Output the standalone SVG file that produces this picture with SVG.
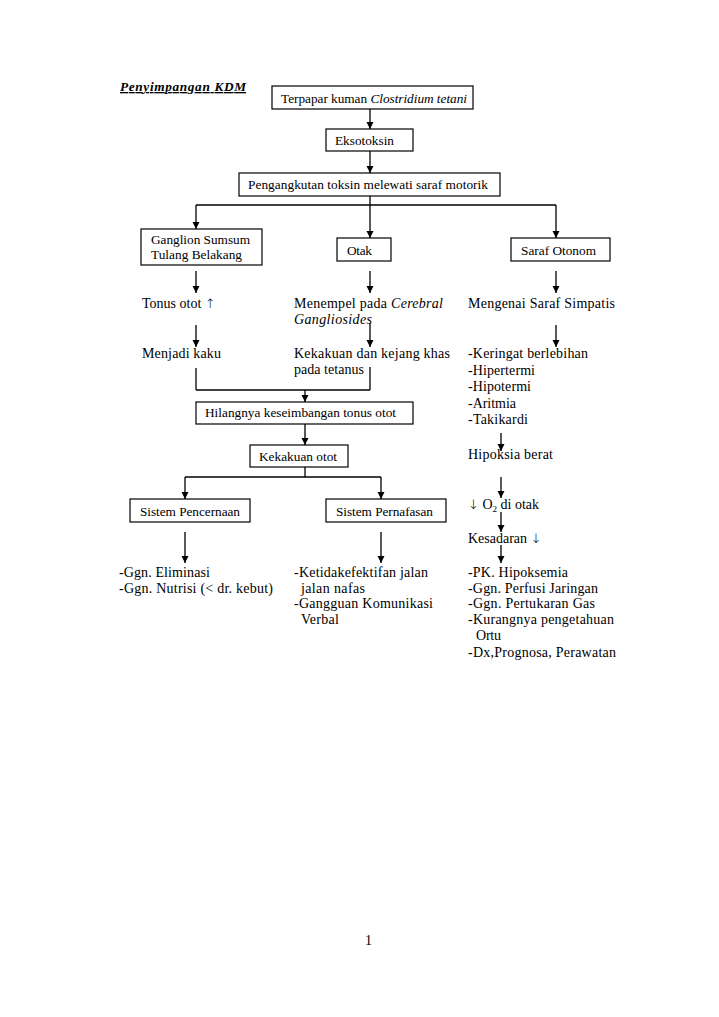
<svg xmlns="http://www.w3.org/2000/svg" width="719" height="1017" viewBox="0 0 719 1017">
<style>
text{font-family:"Liberation Serif","Times New Roman",serif;font-size:13.3px;fill:#000}
.f{font-size:14px}
.box{fill:#fff;stroke:#000;stroke-width:1.2}
.ln{fill:none;stroke:#000;stroke-width:1.3}
.ar{fill:none;stroke:#000;stroke-width:1.3;marker-end:url(#ah)}
.it{font-style:italic}
.sym{font-family:"DejaVu Sans","DejaVu Serif",sans-serif;font-weight:200;font-size:13px;fill:#000}
</style>
<defs>
<marker id="ah" markerUnits="userSpaceOnUse" markerWidth="8" markerHeight="8" refX="7" refY="4" orient="auto">
<path d="M0,0.5 L7,4 L0,7.5 z" fill="#000"/>
</marker>
</defs>
<rect width="719" height="1017" fill="#fff"/>
<g id="title"><text x="120" y="91" font-weight="bold" font-style="italic" font-size="14" text-decoration="underline" textLength="126" lengthAdjust="spacing">Penyimpangan KDM</text></g>

<g id="connectors">
<line class="ar" x1="370" y1="109" x2="370" y2="129"/>
<line class="ar" x1="370" y1="151" x2="370" y2="173"/>
<line class="ln" x1="370" y1="196" x2="370" y2="205"/>
<line class="ln" x1="196" y1="205" x2="556" y2="205"/>
<line class="ar" x1="196" y1="205" x2="196" y2="229"/>
<line class="ar" x1="370" y1="205" x2="370" y2="238"/>
<line class="ar" x1="556" y1="205" x2="556" y2="238"/>
<line class="ar" x1="196" y1="271" x2="196" y2="293"/>
<line class="ar" x1="370" y1="271" x2="370" y2="293"/>
<line class="ar" x1="556" y1="271" x2="556" y2="293"/>
<line class="ar" x1="196" y1="325" x2="196" y2="347"/>
<line class="ar" x1="370" y1="323" x2="370" y2="347"/>
<line class="ar" x1="556" y1="325" x2="556" y2="347"/>
<line class="ln" x1="196" y1="368" x2="196" y2="390"/>
<line class="ln" x1="370" y1="367" x2="370" y2="390"/>
<line class="ln" x1="196" y1="390" x2="370" y2="390"/>
<line class="ar" x1="305" y1="390" x2="305" y2="402"/>
<line class="ar" x1="305" y1="424" x2="305" y2="445"/>
<line class="ln" x1="305" y1="467" x2="305" y2="477"/>
<line class="ln" x1="185" y1="477" x2="381" y2="477"/>
<line class="ar" x1="185" y1="477" x2="185" y2="499"/>
<line class="ar" x1="381" y1="477" x2="381" y2="499"/>
<line class="ar" x1="185" y1="532" x2="185" y2="563"/>
<line class="ar" x1="381" y1="532" x2="381" y2="563"/>
<line class="ar" x1="501" y1="433" x2="501" y2="451"/>
<line class="ar" x1="501" y1="477" x2="501" y2="498"/>
<line class="ar" x1="501" y1="512" x2="501" y2="532"/>
<line class="ar" x1="501" y1="545" x2="501" y2="563"/>
</g>

<g id="n-terpapar"><rect class="box" x="272" y="86" width="201" height="23"/><text x="281" y="103" textLength="186" lengthAdjust="spacing">Terpapar kuman <tspan class="it">Clostridium tetani</tspan></text></g>
<g id="n-eksotoksin"><rect class="box" x="326" y="129" width="87" height="22"/><text x="335" y="145" textLength="59" lengthAdjust="spacing">Eksotoksin</text></g>
<g id="n-pengangkutan"><rect class="box" x="239" y="173" width="261" height="23"/><text x="248" y="189" textLength="240" lengthAdjust="spacing">Pengangkutan toksin melewati saraf motorik</text></g>
<g id="n-ganglion"><rect class="box" x="141" y="229" width="121" height="36"/><text x="151" y="244" textLength="99" lengthAdjust="spacing">Ganglion Sumsum</text><text x="151" y="259" textLength="91" lengthAdjust="spacing">Tulang Belakang</text></g>
<g id="n-otak"><rect class="box" x="337" y="238" width="54" height="23"/><text x="347" y="255" textLength="25" lengthAdjust="spacing">Otak</text></g>
<g id="n-otonom"><rect class="box" x="511" y="238" width="99" height="23"/><text x="521" y="255" textLength="75" lengthAdjust="spacing">Saraf Otonom</text></g>

<g id="n-tonus"><text class="f" x="142" y="308">Tonus otot <tspan class="sym">↑</tspan></text></g>
<g id="n-menempel"><text class="f" x="294" y="308" textLength="149" lengthAdjust="spacing">Menempel pada <tspan class="it">Cerebral</tspan></text><text x="294" y="324" class="f it" textLength="78" lengthAdjust="spacing">Gangliosides</text></g>
<g id="n-mengenai"><text class="f" x="468" y="308" textLength="147" lengthAdjust="spacing">Mengenai Saraf Simpatis</text></g>

<g id="n-kaku"><text class="f" x="142" y="358" textLength="79" lengthAdjust="spacing">Menjadi kaku</text></g>
<g id="n-kejang"><text class="f" x="294" y="358" textLength="156" lengthAdjust="spacing">Kekakuan dan kejang khas</text><text class="f" x="294" y="374" textLength="70" lengthAdjust="spacing">pada tetanus</text></g>
<g id="n-gejala"><text class="f" x="468" y="358" textLength="120" lengthAdjust="spacing">-Keringat berlebihan</text><text class="f" x="468" y="374.5" textLength="67" lengthAdjust="spacing">-Hipertermi</text><text class="f" x="468" y="391" textLength="63" lengthAdjust="spacing">-Hipotermi</text><text class="f" x="468" y="407.5" textLength="48" lengthAdjust="spacing">-Aritmia</text><text class="f" x="468" y="424" textLength="60" lengthAdjust="spacing">-Takikardi</text></g>

<g id="n-hilangnya"><rect class="box" x="196" y="402" width="217" height="22"/><text x="205" y="417" textLength="191" lengthAdjust="spacing">Hilangnya keseimbangan tonus otot</text></g>
<g id="n-kekakuan"><rect class="box" x="250" y="445" width="98" height="22"/><text x="259" y="461" textLength="78" lengthAdjust="spacing">Kekakuan otot</text></g>
<g id="n-hipoksia"><text class="f" x="468" y="459" textLength="85" lengthAdjust="spacing">Hipoksia berat</text></g>
<g id="n-o2"><text class="f" x="468" y="509"><tspan class="sym">↓</tspan> O<tspan font-size="9" dy="3">2</tspan><tspan dy="-3"> di otak</tspan></text></g>
<g id="n-kesadaran"><text class="f" x="468" y="543">Kesadaran <tspan class="sym">↓</tspan></text></g>

<g id="n-pencernaan"><rect class="box" x="130" y="499" width="120" height="23"/><text x="140" y="516" textLength="100" lengthAdjust="spacing">Sistem Pencernaan</text></g>
<g id="n-pernafasan"><rect class="box" x="326" y="499" width="120" height="23"/><text x="336" y="516" textLength="97" lengthAdjust="spacing">Sistem Pernafasan</text></g>

<g id="n-dx-pencernaan"><text class="f" x="119" y="577" textLength="91" lengthAdjust="spacing">-Ggn. Eliminasi</text><text class="f" x="119" y="592.5" textLength="154" lengthAdjust="spacing">-Ggn. Nutrisi (&lt; dr. kebut)</text></g>
<g id="n-dx-pernafasan"><text class="f" x="294" y="577" textLength="134" lengthAdjust="spacing">-Ketidakefektifan jalan</text><text class="f" x="301" y="592.5" textLength="64" lengthAdjust="spacing">jalan nafas</text><text class="f" x="294" y="608" textLength="139" lengthAdjust="spacing">-Gangguan Komunikasi</text><text class="f" x="301" y="624" textLength="38" lengthAdjust="spacing">Verbal</text></g>
<g id="n-dx-otonom"><text class="f" x="468" y="577" textLength="100" lengthAdjust="spacing">-PK. Hipoksemia</text><text class="f" x="468" y="592.5" textLength="130" lengthAdjust="spacing">-Ggn. Perfusi Jaringan</text><text class="f" x="468" y="608" textLength="127" lengthAdjust="spacing">-Ggn. Pertukaran Gas</text><text class="f" x="468" y="624" textLength="146" lengthAdjust="spacing">-Kurangnya pengetahuan</text><text class="f" x="476" y="640" textLength="25" lengthAdjust="spacing">Ortu</text><text class="f" x="468" y="657" textLength="148" lengthAdjust="spacing">-Dx,Prognosa, Perawatan</text></g>

<g id="page-number"><text class="f" x="365" y="945">1</text></g>
</svg>
